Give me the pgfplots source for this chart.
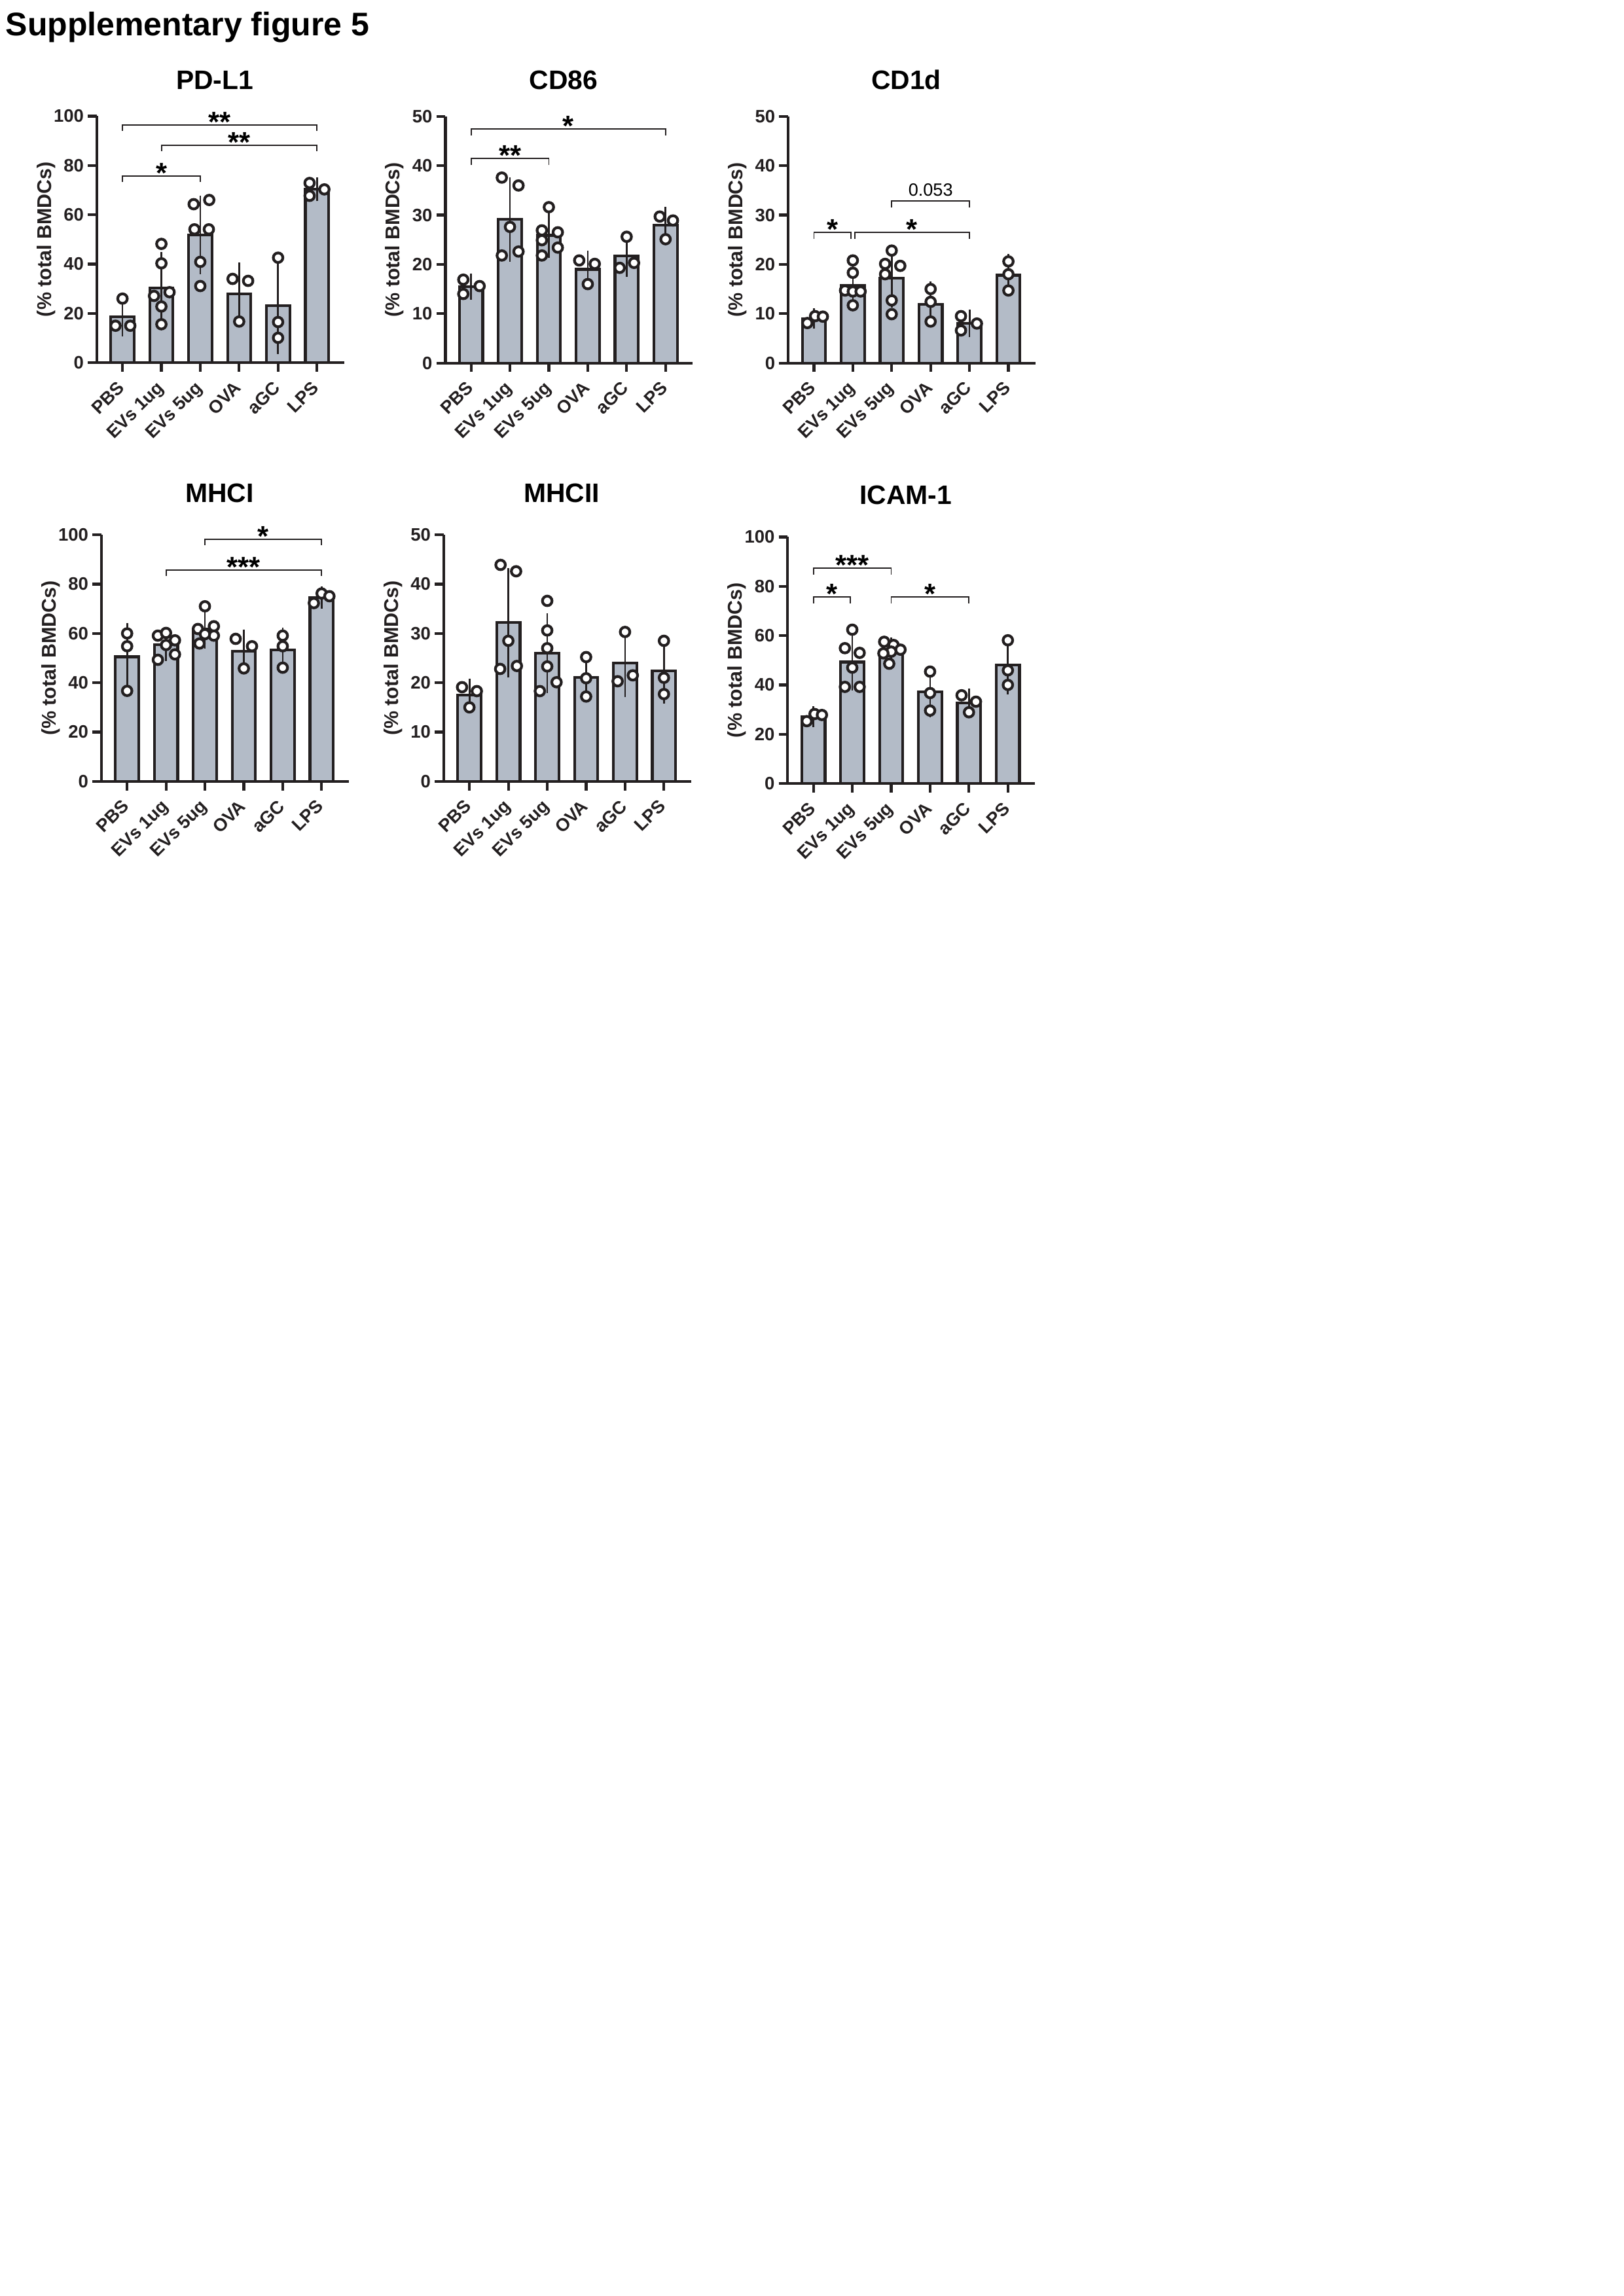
\documentclass[border=0pt]{standalone}
\usepackage{fontspec}
\setmainfont{Liberation Sans}
\usepackage{pgfplots}
\pgfplotsset{compat=1.18}

\definecolor{barfill}{RGB}{179,187,199}
\definecolor{ink}{RGB}{35,31,32}

\tikzset{
  stars/.style={anchor=base, inner sep=0pt, font=\bfseries\fontsize{10.5}{11}\selectfont, yshift=-2.5pt},
  pval/.style={anchor=base, inner sep=0pt, font=\fontsize{6.5}{7}\selectfont, yshift=1.7pt},
}

\pgfplotsset{
  panel/.style={
    scale only axis, width=90.7pt, height=90.4pt,
    anchor=south west,
    xmin=-0.66, xmax=5.7, ymin=0,
    axis lines*=left, separate axis lines,
    axis line style={line width=1pt, draw=ink, -},
    xtick={0,...,5},
    xticklabels={PBS,EVs 1ug,EVs 5ug,OVA,aGC,LPS},
    tick align=outside, major tick length=3.3pt,
    tick style={line width=1pt, draw=ink},
    /pgf/number format/assume math mode=true,
    ticklabel style={font=\bfseries\fontsize{6.6}{7}\selectfont, text=ink, inner sep=0pt},
    xticklabel style={rotate=45, anchor=east, text height=4.7pt, text depth=1.3pt},
    yticklabel style={anchor=east},
    xticklabel shift=5pt, yticklabel shift=1.3pt,
    ylabel={(\% total BMDCs)},
    ylabel style={font=\bfseries\fontsize{7.3}{8}\selectfont, text=ink,
      at={(axis description cs:-0.205,0.5)}, anchor=center},
    title style={font=\bfseries\fontsize{9.8}{11}\selectfont,
      at={(axis description cs:0.477,1)}, anchor=base},
    clip=false,
  },
  row one/.style={title style={yshift=3.9pt}},
  row two/.style={title style={yshift=6pt}},
  hundred/.style={ymax=100, ytick={0,20,...,100}},
  fifty/.style={ymax=50, ytick={0,10,...,50}},
  bars/.style={ybar, bar width=0.6, fill=barfill, draw=ink, line width=1pt},
  errs/.style={draw=none, mark=none,
    error bars/.cd, y dir=both, y explicit,
    error bar style={draw=ink, line width=0.65pt},
    error mark options={draw=ink, line width=0.65pt, mark size=2.3pt}},
  dots/.style={only marks, mark=*, mark size=1.75pt,
    mark options={fill=white, draw=ink, line width=1pt}},
  bracket/.style={draw=ink, line width=0.45pt, mark=none},
}

\begin{document}
\begin{tikzpicture}
\useasboundingbox (0,0) rectangle (595.28pt,-841.89pt);
\node[anchor=base west, inner sep=0pt, font=\bfseries\fontsize{12}{14}\selectfont]
  at (1.9pt,-13pt) {Supplementary figure 5};

% ---------------- PD-L1
\begin{axis}[panel, hundred, row one, at={(35.5pt,-133.0pt)}, title=PD-L1]
\addplot[bars] coordinates {(0,18.7) (1,30.4) (2,51.8) (3,28.0) (4,23.1) (5,70.3)};
\addplot[errs] coordinates {(0,18.7) +- (0,5.5) (1,30.4) +- (0,11.9) (2,51.8) +- (0,13.4)
  (3,28.0) +- (0,10.0) (4,23.1) +- (0,17.0) (5,70.3) +- (0,2.2)};
\addplot[dots] table {
x y
-0.18 15.0
0.2 15.0
0 26.0
1 48.2
1 40.3
0.81 27.1
1.21 28.6
1 22.8
1 15.6
1.83 64.3
2.23 66.0
1.85 54.1
2.22 54.1
2 40.9
2 31.1
2.83 34.0
3.23 33.2
3 16.7
4 42.6
4 16.5
4 10.1
4.81 72.9
4.81 67.7
5.19 70.3
};
\addplot[bracket] coordinates {(0,94.1) (0,96.5) (5,96.5) (5,94.1)};
\addplot[bracket] coordinates {(1,85.8) (1,88.1) (5,88.1) (5,85.8)};
\addplot[bracket] coordinates {(0,73.3) (0,75.7) (2,75.7) (2,73.3)};
\node[stars] at (axis cs:2.5,96.5) {**};
\node[stars] at (axis cs:3,88.1) {**};
\node[stars] at (axis cs:1,75.7) {*};
\end{axis}

% ---------------- CD86
\begin{axis}[panel, fifty, row one, at={(163.3pt,-133.1pt)}, title=CD86]
\addplot[bars] coordinates {(0,15.5) (1,29.1) (2,25.9) (3,19.0) (4,21.7) (5,27.9)};
\addplot[errs] coordinates {(0,15.5) +- (0,1.4) (1,29.1) +- (0,7.3) (2,25.9) +- (0,3.3)
  (3,19.0) +- (0,2.5) (4,21.7) +- (0,3.0) (5,27.9) +- (0,2.5)};
\addplot[dots] table {
x y
-0.2 16.9
-0.2 14.0
0.22 15.6
0.79 37.6
1.22 36.0
1 27.6
0.79 21.8
1.22 22.6
2 31.6
1.82 26.9
2.23 26.5
1.82 24.9
2.23 23.4
1.82 21.8
2.78 20.8
3.18 20.1
3 16.0
4 25.6
3.82 19.3
4.19 20.3
4.85 29.7
5.19 28.9
5 25.1
};
\addplot[bracket] coordinates {(0,46.2) (0,47.5) (5,47.5) (5,46.2)};
\addplot[bracket] coordinates {(0,40.2) (0,41.5) (2,41.5) (2,40.2)};
\node[stars] at (axis cs:2.5,47.5) {*};
\node[stars] at (axis cs:1,41.5) {**};
\end{axis}

% ---------------- CD1d
\begin{axis}[panel, fifty, row one, at={(289.0pt,-133.1pt)}, title=CD1d]
\addplot[bars] coordinates {(0,9.0) (1,15.7) (2,17.2) (3,11.9) (4,8.0) (5,17.8)};
\addplot[errs] coordinates {(0,9.0) +- (0,0.8) (1,15.7) +- (0,3.2) (2,17.2) +- (0,4.7)
  (3,11.9) +- (0,3.3) (4,8.0) +- (0,1.5) (5,17.8) +- (0,3.0)};
\addplot[dots] table {
x y
-0.17 8.1
0.03 9.5
0.23 9.4
1 20.8
1 18.3
0.8 14.7
1 14.5
1.2 14.5
1 11.7
2 22.8
1.83 20.1
2.22 19.7
1.83 18.0
2 12.7
2 9.9
3 15.0
3 12.4
3 8.4
3.78 9.5
3.78 6.6
4.19 8.0
5 20.6
5 18.0
5 14.7
};
\addplot[bracket] coordinates {(0,25.2) (0,26.5) (0.95,26.5) (0.95,25.2)};
\addplot[bracket] coordinates {(1.05,25.2) (1.05,26.5) (4,26.5) (4,25.2)};
\addplot[bracket] coordinates {(2,31.6) (2,32.9) (4,32.9) (4,31.6)};
\node[stars] at (axis cs:0.48,26.5) {*};
\node[stars] at (axis cs:2.52,26.5) {*};
\node[pval] at (axis cs:3,32.9) {0.053};
\end{axis}

% ---------------- MHCI
\begin{axis}[panel, hundred, row two, at={(37.2pt,-286.5pt)}, title=MHCI]
\addplot[bars] coordinates {(0,50.5) (1,55.4) (2,61.7) (3,52.8) (4,53.3) (5,74.5)};
\addplot[errs] coordinates {(0,50.5) +- (0,11.1) (1,55.4) +- (0,4.0) (2,61.7) +- (0,5.2)
  (3,52.8) +- (0,6.3) (4,53.3) +- (0,6.6) (5,74.5) +- (0,2.0)};
\addplot[dots] table {
x y
0 60.0
0 54.8
0 36.7
0.79 59.1
1 60.2
1.23 57.2
1 55.3
0.79 49.3
1.23 51.5
2 71.0
1.82 61.8
2.23 62.9
2.23 59.1
1.86 55.9
2 59.7
2.79 57.8
3.21 54.8
3 45.8
4 59.1
4 54.8
4 46.1
4.8 72.3
5 76.2
5.2 75.1
};
\addplot[bracket] coordinates {(2,95.8) (2,98.2) (5,98.2) (5,95.8)};
\addplot[bracket] coordinates {(1,83.2) (1,85.7) (5,85.7) (5,83.2)};
\node[stars] at (axis cs:3.5,98.2) {*};
\node[stars] at (axis cs:3,85.7) {***};
\end{axis}

% ---------------- MHCII
\begin{axis}[panel, fifty, row two, at={(162.7pt,-286.5pt)}, title=MHCII]
\addplot[bars] coordinates {(0,17.5) (1,32.2) (2,26.0) (3,21.1) (4,24.0) (5,22.4)};
\addplot[errs] coordinates {(0,17.5) +- (0,2.1) (1,32.2) +- (0,9.8) (2,26.0) +- (0,6.8)
  (3,21.1) +- (0,3.0) (4,24.0) +- (0,5.6) (5,22.4) +- (0,5.3)};
\addplot[dots] table {
x y
-0.19 19.1
0.19 18.3
0 15.0
0.8 43.9
1.2 42.6
1 28.5
0.79 22.8
1.22 23.4
2 36.6
2 30.6
2 27.0
2 23.3
1.81 18.3
2.24 20.1
3 25.2
3 20.9
3 17.2
4 30.3
3.81 20.3
4.2 21.5
5 28.5
5 21.0
5 17.7
};
\end{axis}

% ---------------- ICAM-1
\begin{axis}[panel, hundred, row two, at={(288.8pt,-287.3pt)}, title=ICAM-1]
\addplot[bars] coordinates {(0,27.1) (1,49.3) (2,53.8) (3,37.2) (4,32.6) (5,48.0)};
\addplot[errs] coordinates {(0,27.1) +- (0,1.6) (1,49.3) +- (0,9.0) (2,53.8) +- (0,3.0)
  (3,37.2) +- (0,7.9) (4,32.6) +- (0,3.5) (5,48.0) +- (0,9.2)};
\addplot[dots] table {
x y
-0.17 25.3
0.03 28.2
0.22 27.8
1 62.4
0.81 54.9
1.19 53.0
1 47.0
0.81 39.2
1.19 39.2
1.82 57.5
2.06 56.2
2.24 54.3
2 53.5
1.8 52.8
1.95 48.6
3 45.4
3 36.7
3 29.6
3.81 35.8
4.18 33.2
4 28.9
5 58.1
5 45.9
5 40.0
};
\addplot[bracket] coordinates {(0,84.8) (0,87.4) (2,87.4) (2,84.8)};
\addplot[bracket] coordinates {(0,73.1) (0,75.6) (0.95,75.6) (0.95,73.1)};
\addplot[bracket] coordinates {(2,73.1) (2,75.6) (4,75.6) (4,73.1)};
\node[stars] at (axis cs:1,87.4) {***};
\node[stars] at (axis cs:0.48,75.6) {*};
\node[stars] at (axis cs:3,75.6) {*};
\end{axis}
\end{tikzpicture}
\end{document}
